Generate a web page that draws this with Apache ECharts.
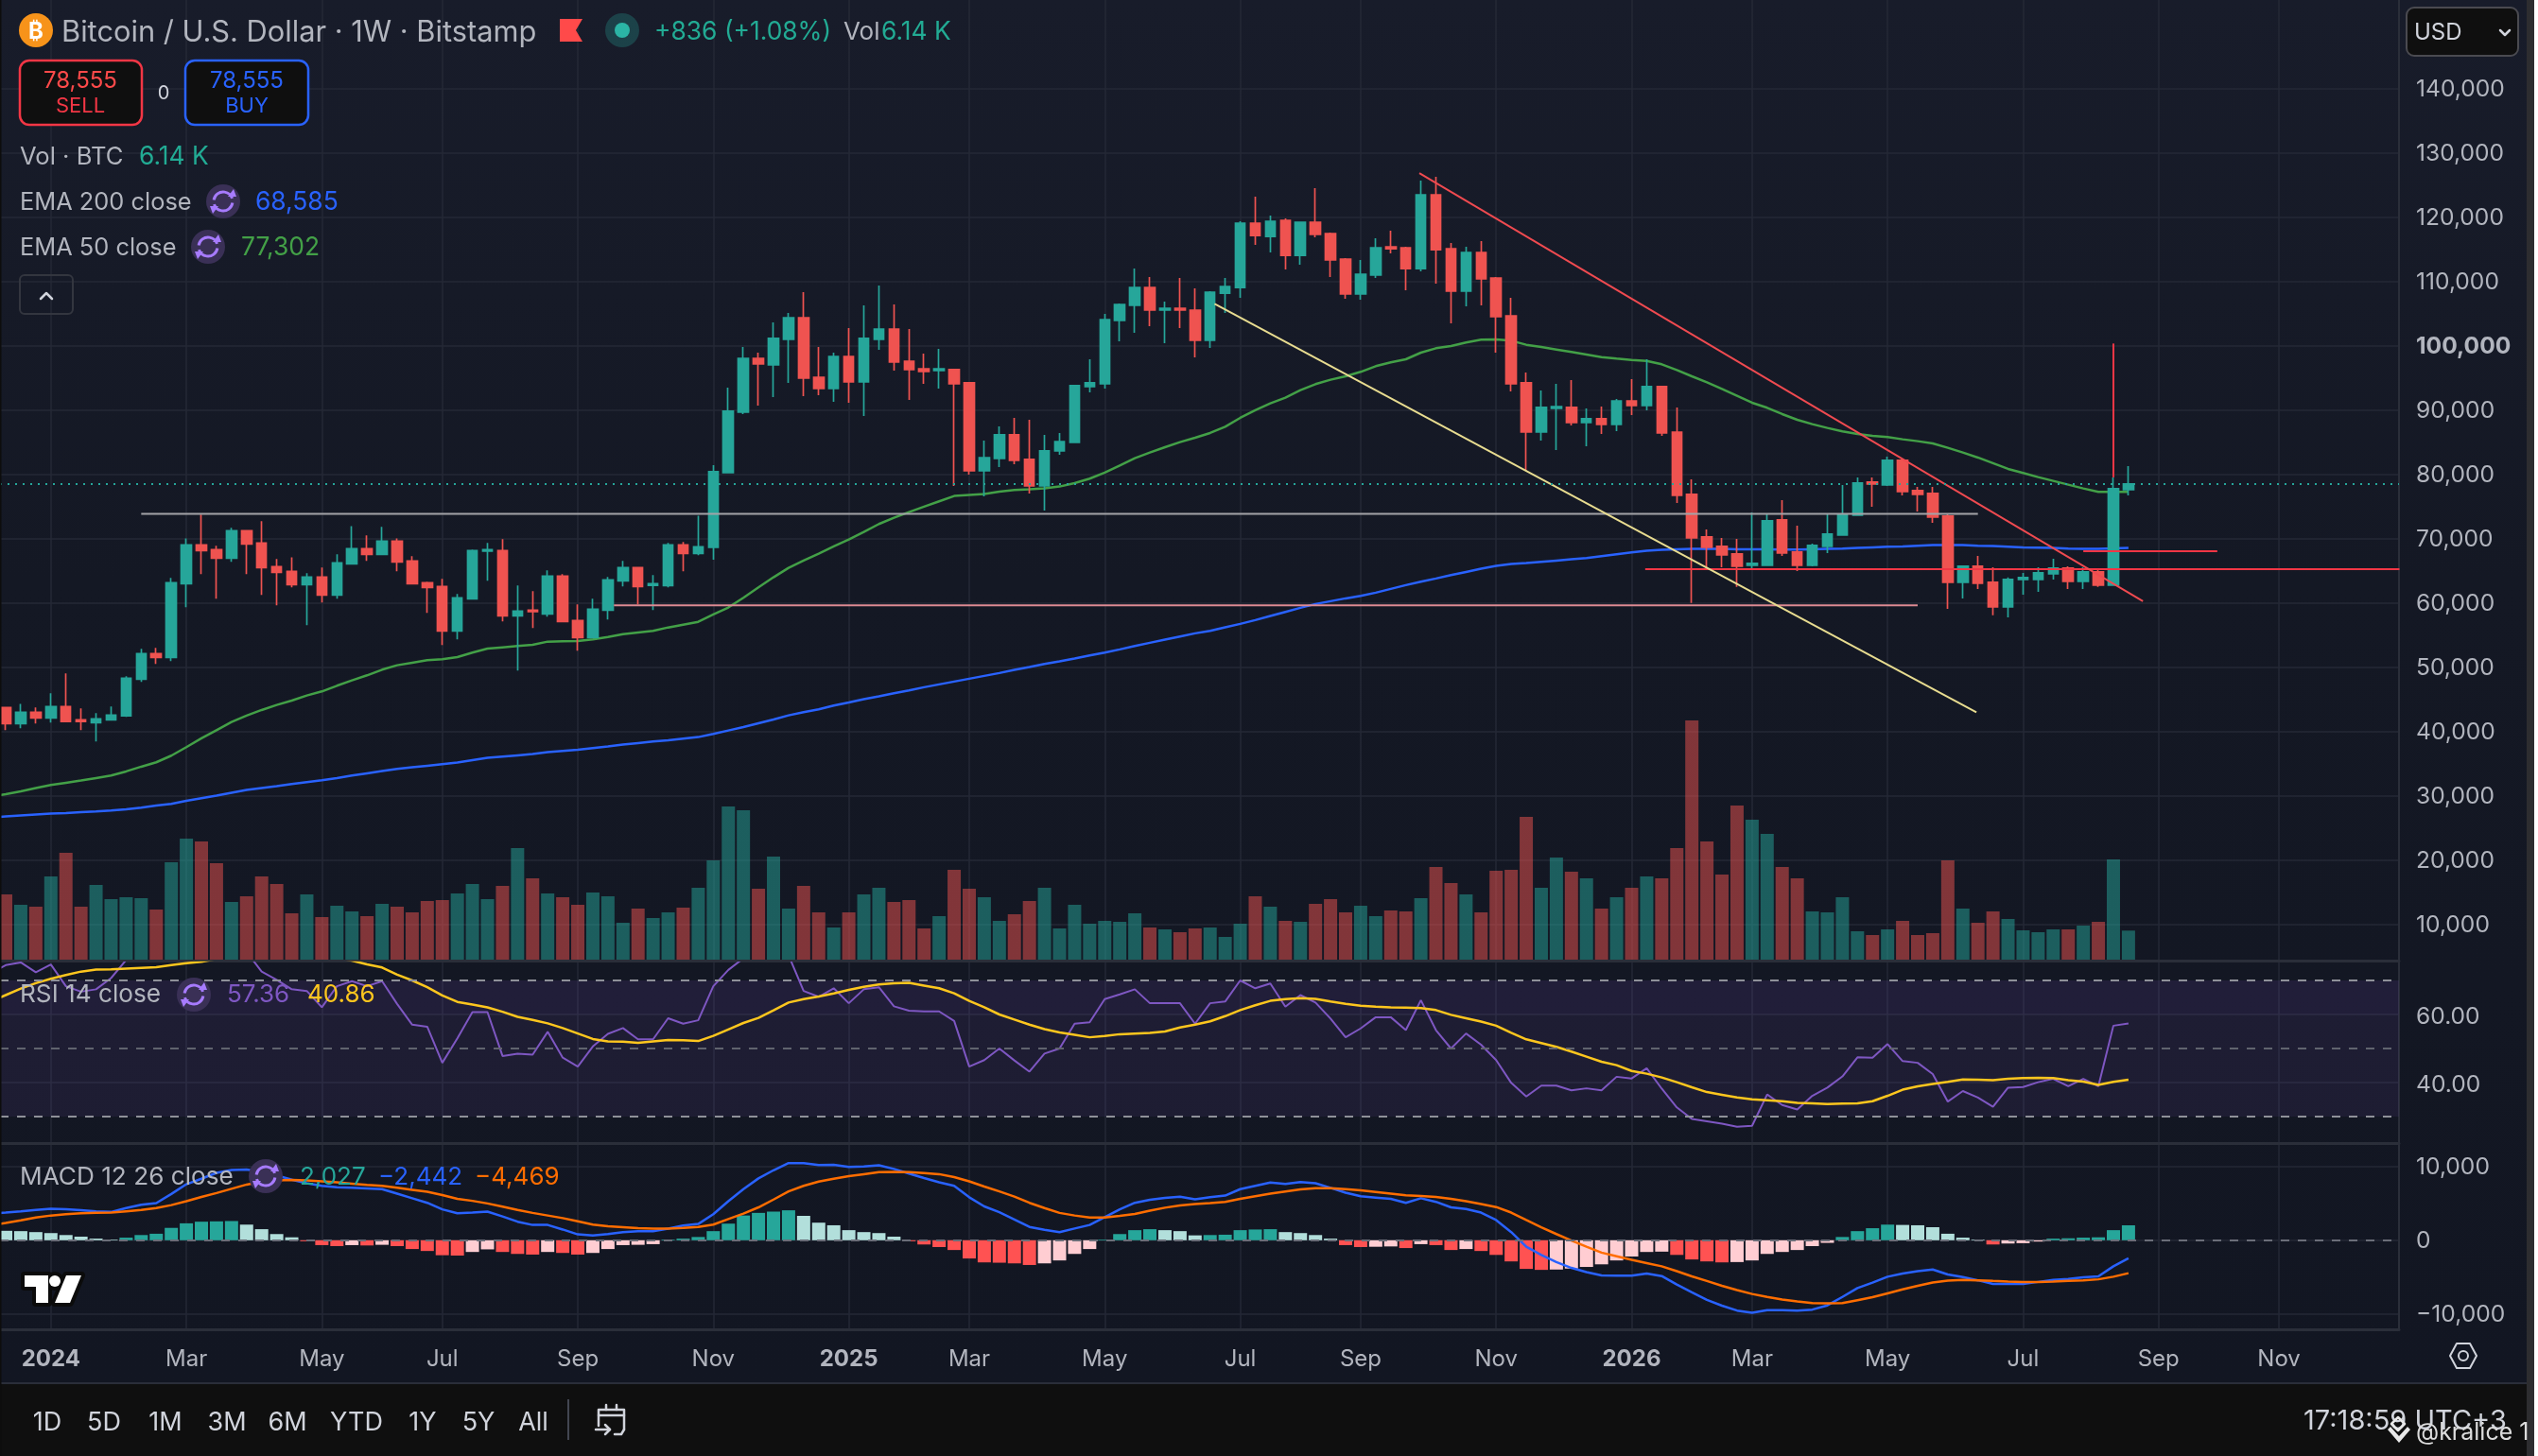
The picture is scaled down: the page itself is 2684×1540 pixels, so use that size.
<!DOCTYPE html>
<html><head><meta charset="utf-8">
<style>html,body{margin:0;padding:0;background:#fff}#c{width:2684px;height:1540px}</style>
<script src="https://cdn.jsdelivr.net/npm/echarts@6/dist/echarts.min.js"></script>
</head><body><div id="c"></div>
<script>
// [open, close, low, high] per week; index 3 = first week of 2024
const ohlc=[
[43780,41280,40250,43780],[41280,43050,40550,44320],[43050,42160,41280,43780],[42160,43930,41430,45990],[43930,41580,41580,49070],[41870,41580,40250,43630],[41430,42020,38490,42900],[41870,42610,41870,43930],[42460,48340,42310,48630],[48190,52160,47750,52900],
[52160,51570,50540,53040],[51570,63190,50980,63920],[63040,69070,59360,70090],[69070,68180,64510,73770],[68330,67010,60690,68920],[67010,71270,66420,71710],[71270,69210,64510,71270],[69360,65540,61270,72740],[65680,64800,59660,66860],[64950,62890,62450,67150],
[62890,64070,56570,64660],[64070,61270,60100,65540],[61270,66270,60690,67600],[66130,68480,66130,72000],[68480,67600,66570,70540],[67600,69650,67600,71860],[69650,66420,64950,70090],[66570,63040,63040,67300],[63190,62450,58480,63330],[62600,55690,53480,63770],
[55690,60830,54370,61420],[60690,68180,60690,68330],[68090,68330,63480,69360],[68180,58040,57160,69950],[58040,58780,49510,62740],[58920,58680,56130,61860],[58330,64210,57890,65100],[64210,57160,57160,64510],[57310,54660,52600,59800],[54660,59070,54660,60690],
[58920,63630,57450,64070],[63480,65540,62600,66570],[65540,62600,59800,65680],[62790,63040,58920,64360],[62740,69070,62450,69360],[69070,67740,64950,69510],[67740,68770,67450,73620],[68690,80450,66780,81480],[80300,89860,80300,93530],[89710,98090,89420,99850],
[98090,97210,90740,98970],[97060,101180,92060,103680],[101030,104410,94270,105150],[104410,95000,92210,108380],[95150,93390,92360,99850],[93390,98380,91330,98970],[98380,94410,91180,102790],[94410,101180,89120,106320],[101030,102650,99410,109410],[102650,97500,96180,106470],
[97650,96330,91620,102650],[96470,96030,94120,98820],[96180,96470,93390,99560],[96330,94120,78240,96470],[94270,80600,80010,94410],[80600,82650,76630,85300],[82510,86180,81180,87510],[86180,82210,81630,88830],[82360,78240,77070,88530],[78240,83680,74420,86180],
[83680,85150,83100,86480],[85010,93830,85010,93830],[93680,94270,92800,97940],[94120,104120,93390,105000],[103970,106470,100740,106620],[106320,109110,102060,112050],[109110,105590,103090,110730],[105590,105880,100440,106910],[105880,105590,102790,110580],[105590,100880,98240,108970],
[100880,108380,99710,108530],[108230,109260,105150,110580],[109110,119110,107500,119400],[119110,117200,115730,123230],[117050,119400,114550,120290],[119550,114110,111910,119850],[114110,119260,112640,119260],[119260,117350,116910,124550],[117490,113380,110730,117640],[113520,108090,107350,113670],
[108090,111170,107200,113380],[111030,115290,110580,116760],[115440,115140,114410,117930],[115290,112050,108670,115440],[112050,123520,111610,125730],[123520,114990,109700,126310],[115140,108530,103530,116020],[108530,114550,106170,115440],[114550,110440,106320,116320],[110580,104560,98970,110730],
[104700,94120,92940,107500],[94270,86620,80600,95880],[86620,90450,85300,93090],[90300,90590,83830,94120],[90450,88090,87650,94710],[88090,88680,84420,90300],[88680,87800,86330,90590],[87800,91470,86770,91770],[91470,90740,89270,94860],[90740,93680,90000,97940],
[93680,86480,86040,93680],[86620,76770,75600,90450],[76920,70160,60020,79270],[70310,68690,65310,71480],[68840,67510,65600,70160],[67660,65750,62520,70010],[65900,66190,65310,74130],[65900,72810,65900,73980],[72950,67810,67370,76040],[67950,65900,65010,72070],
[65900,68980,65750,69280],[68840,70750,67810,73830],[70600,73830,70600,78390],[73690,78690,73690,79570],[78830,78540,75010,79570],[78390,82210,78240,82800],[82210,77360,76770,82510],[77510,76920,74280,78100],[77070,73390,72510,78100],[73540,63250,59130,73830],
[63250,65750,60750,65750],[65750,63100,62220,67370],[63250,59430,58110,65600],[59430,63690,57810,63990],[63690,63990,61340,64720],[63690,64720,61780,65600],[64570,65460,63690,66930],[65460,63400,62220,65750],[63400,64870,62220,65600],[64870,62810,62520,65160],
[62810,77800,62810,79570],[77660,78555,76770,81330]];
// the first value of each indicator is the week just left of the visible window (index -1)
const ema50=[29870,30306,30747,31237,31727,32070,32413,32805,33197,33834,34569,35255,36284,37607,38979,40253,41527,42507,43389,44173,44859,
45643,46280,47162,47995,48779,49661,50347,50739,51131,51278,51621,52307,52944,53140,53336,53532,54022,54071,54120,54365,
54757,55198,55443,55688,56227,56668,57109,58252,59330,60849,62466,64034,65504,66631,67709,68836,69914,71090,72315,73295,
74177,75010,75843,76676,76823,76970,77362,77607,77705,77852,78146,78685,79371,80302,81429,82556,83438,84271,85055,85741,
86476,87456,88828,90004,91082,91964,93140,94071,94757,95296,95982,96864,97452,97942,98971,99657,100000,100539,100980,101029,
100833,100196,99853,99461,99069,98677,98285,98040,97844,97697,97158,96276,95296,94365,93336,92258,91180,90396,89416,88534,
87848,87260,86721,86329,86035,85839,85496,85202,84859,84173,83438,82654,81772,80890,80253,79616,79028,78440,77852,77313,77313,77302];
const ema200=[26680,26827,26974,27121,27268,27366,27513,27611,27758,27954,28199,28542,28787,29277,29669,30061,30502,30943,31237,31531,31874,
32168,32462,32805,33197,33540,33883,34226,34471,34716,34961,35206,35598,35941,36137,36333,36529,36823,37019,37215,37460,
37705,37999,38244,38489,38685,38930,39175,39665,40204,40743,41331,41919,42556,43046,43487,44075,44565,45071,45512,46002,
46443,46933,47374,47815,48256,48697,49138,49628,50069,50559,50951,51392,51882,52323,52813,53352,53842,54332,54822,55312,
55704,56243,56782,57370,58007,58644,59281,59869,60310,60751,61143,61633,62221,62809,63348,63838,64377,64867,65357,65798,
66092,66239,66435,66631,66827,67023,67317,67611,67905,68150,68297,68395,68444,68444,68444,68395,68395,68395,68346,68346,
68395,68444,68493,68591,68689,68787,68836,68934,69032,69032,69032,68934,68885,68787,68689,68640,68591,68493,68444,68444,68542,68585];
// volume in thousands of BTC
const volume=[13.8,11.6,11.2,17.6,22.6,11.2,15.8,12.8,13.2,13.0,10.6,20.6,25.6,25.0,20.4,12.2,13.4,17.6,16.0,9.8,
13.8,9.0,11.4,10.2,9.2,11.8,11.2,10.0,12.4,12.6,14.0,16.0,12.8,15.6,23.6,17.2,14.0,13.2,11.6,14.2,
13.4,7.8,10.8,8.8,10.0,11.0,15.2,21.0,32.4,31.6,15.0,21.8,10.8,15.6,10.0,6.8,10.0,13.8,15.2,12.2,
12.6,6.6,9.2,19.0,15.0,13.2,8.2,9.6,12.4,15.2,6.6,11.6,7.6,8.2,8.0,9.8,6.8,6.4,5.8,6.6,
6.8,4.8,7.6,13.4,11.2,8.2,8.0,11.8,12.8,10.0,11.4,9.2,10.4,10.2,13.0,19.6,16.2,13.8,10.0,18.8,
19.0,30.2,15.2,21.6,18.6,17.2,10.8,13.2,15.2,17.6,17.2,23.6,50.6,25.0,18.0,32.6,29.6,26.6,19.6,17.2,
10.2,10.0,13.2,6.0,5.2,6.4,8.2,5.2,5.6,21.0,10.8,7.8,10.2,8.6,6.2,5.8,6.4,6.4,7.2,8.0,21.2,6.14];
const rsi=[72.0,74.5,75.3,72.4,74.7,68.3,66.7,67.4,70.7,76.0,78.4,79.3,86.0,89.9,84.1,83.2,81.2,78.4,72.6,70.2,67.4,
66.9,62.1,68.3,69.8,68.3,69.8,63.1,57.0,56.4,45.8,53.0,60.7,60.7,47.8,48.5,48.2,54.9,47.3,44.7,50.6,
54.3,56.0,52.7,52.7,58.9,57.3,58.3,68.3,73.1,76.5,77.4,78.9,77.4,66.9,65.2,67.7,63.3,67.4,68.0,62.4,
61.1,60.9,60.9,58.1,44.7,46.6,50.0,46.5,43.2,48.5,50.0,57.3,57.7,64.5,65.9,67.4,63.3,63.3,63.3,57.3,
63.3,63.8,70.0,67.7,69.1,62.3,65.7,63.5,58.8,53.3,55.9,59.2,59.2,55.4,64.2,55.4,50.0,54.4,51.1,46.6,
39.9,35.9,39.1,39.1,37.7,38.3,37.7,41.7,41.2,44.2,38.2,32.7,29.3,28.6,27.9,27.0,27.3,36.5,33.4,32.1,
36.1,38.5,41.8,47.4,47.3,51.3,46.3,45.8,42.5,34.4,37.5,35.6,32.9,38.5,38.7,40.1,41.1,38.9,41.1,38.9,56.7,57.36];
const rsiMa=[63.8,65.7,67.6,69.2,70.5,71.6,72.6,73.2,73.3,73.5,73.7,73.9,74.5,75.1,75.5,76.3,76.9,77.4,77.9,78.2,78.4,
78.2,77.6,76.7,75.8,74.7,73.8,71.7,70.0,68.0,65.6,63.7,62.9,62.1,60.8,59.3,58.4,57.4,56.0,54.4,52.8,
52.1,52.0,51.7,52.1,52.5,52.4,52.2,53.7,55.6,57.5,59.0,61.2,63.5,64.5,65.3,66.2,67.2,68.1,68.8,69.2,
69.3,68.5,67.7,66.2,64.0,62.1,60.0,58.5,57.0,55.7,54.7,54.0,53.3,53.7,54.2,54.4,54.6,55.0,56.2,57.0,
58.0,59.5,61.3,62.7,64.0,64.5,64.8,64.6,63.8,63.1,62.6,62.3,62.1,62.0,61.9,61.3,59.9,58.9,57.9,56.7,
54.6,52.7,51.6,50.5,49.1,47.6,46.1,45.1,43.4,42.6,41.5,40.1,38.6,37.2,36.4,35.6,35.1,34.8,34.5,34.0,
33.9,33.7,33.8,33.9,34.5,36.1,37.9,38.9,39.6,40.2,40.9,40.8,40.7,41.1,41.3,41.4,41.3,40.7,40.3,39.3,40.2,40.86];
const macdLine=[3600,3753,3929,4106,4283,4194,4062,3929,3841,4371,4812,5033,6269,7594,8344,9139,9536,9581,9272,8786,8212,
7726,7373,7196,7108,7020,6932,6313,5695,5077,4194,3664,3753,3885,3223,2517,2075,2075,1457,795,662,
839,1104,1236,1236,1589,1987,2208,3532,5298,6932,8389,9492,10464,10464,10199,10243,9934,10022,10155,9669,
9051,8433,7859,7373,5828,4592,3797,2826,1810,1413,1104,1589,2075,3135,4194,5077,5475,5740,5916,5563,
5828,6049,6932,7373,7815,7638,7903,7726,7108,6446,5960,5784,5607,5077,5695,5210,4459,4238,3753,2737,
1104,-883,-1987,-2958,-3753,-4327,-4768,-4812,-4812,-4503,-4857,-6004,-7064,-8079,-8874,-9536,-9845,-9492,-9492,-9536,
-9404,-8830,-7682,-6490,-5740,-4945,-4503,-4194,-3974,-4636,-4989,-5430,-5916,-5916,-5916,-5651,-5386,-5254,-5033,-4901,-3532,-2442];
const macdSignal=[2000,2340,2693,3091,3355,3532,3664,3709,3753,3929,4106,4371,4768,5298,5872,6402,6976,7550,7947,8124,8168,
8124,7991,7859,7682,7506,7373,7108,6843,6578,6137,5607,5342,4989,4547,4106,3709,3355,3002,2561,2119,
1898,1766,1634,1589,1589,1678,1810,2119,2870,3620,4459,5519,6623,7373,7947,8344,8698,8962,9227,9272,
9227,9095,8962,8565,7991,7285,6623,5916,5077,4371,3709,3355,3091,3091,3311,3576,4018,4415,4724,4901,
5033,5210,5607,5960,6313,6623,6887,7064,7064,6932,6755,6534,6313,6093,6004,5872,5607,5298,4901,4503,
3753,2737,1766,839,-44,-883,-1678,-2163,-2649,-3091,-3532,-4194,-4901,-5519,-6181,-6755,-7285,-7682,-8035,-8300,
-8521,-8565,-8521,-8124,-7726,-7196,-6667,-6181,-5740,-5475,-5386,-5430,-5519,-5607,-5651,-5651,-5607,-5519,-5430,-5298,-4945,-4469];
const macdHist=[1280,1236,1104,971,706,486,221,88,353,706,883,1678,2296,2517,2561,2605,2119,1501,839,397,
-132,-662,-795,-662,-706,-618,-795,-1192,-1457,-2031,-2075,-1589,-1236,-1589,-1854,-1943,-1589,-1722,-1943,-1722,
-1192,-662,-618,-530,88,221,442,1236,2252,3355,3709,3885,4062,3311,2384,2031,1369,1104,971,486,
-132,-574,-927,-1325,-2472,-3002,-3046,-3135,-3355,-3135,-2737,-1854,-1192,88,839,1369,1501,1369,1236,662,
706,751,1369,1457,1501,1104,971,706,221,-662,-927,-883,-839,-1060,-530,-662,-1325,-1192,-1457,-1987,
-2870,-3885,-4018,-3974,-3841,-3620,-3267,-2737,-2208,-1589,-1545,-1987,-2605,-2870,-3002,-2958,-2737,-1854,-1589,-1325,
-795,-353,442,1236,1634,2119,2075,2031,1766,883,353,88,-574,-442,-397,-177,221,265,353,397,1369,2027];
const monthIndex=[3,12,21,29,38,47,56,64,73,82,90,99,108,116,125,134,143,151];
const monthNames=['2024','Mar','May','Jul','Sep','Nov','2025','Mar','May','Jul','Sep','Nov','2026','Mar','May','Jul','Sep','Nov'];
const priceTicks=[10000,20000,30000,40000,50000,60000,70000,80000,90000,100000,110000,120000,130000,140000];
const rsiTicks=[40,60];
const rsiBands=[70,50,30];
const macdTicks=[-10000,0,10000];
const lastPrice=78555;
const lineGrey=[[9,73900],[131,73900]];
const linePink=[[40.4,59660],[127,59660]];
const lineRed=[[108.9,65300],[159,65300]];
const lineRedShort=[[138,68100],[146.9,68100]];
const lineYellow=[[80.3,106570],[130.9,43040]];
const lineTrend=[[93.9,126900],[141.96,60310]];
const spike=[[140,79570],[140,100390]];

const FONT='Inter, Roboto, sans-serif';
const UP='#26a69a',DN='#ef5350';
const pts=a=>a.map((v,i)=>[i,v]);
const ptsLead=a=>a.map((v,i)=>[i-1,v]);
const XMIN=-0.379,XMAX=158.97,RIGHT=147;
const gridC='#252936',sepC='#2a2e39',txt='#b2b5be';

const grids=[
 {left:0,right:RIGHT,top:0,height:1016},
 {left:0,right:RIGHT,top:701,height:314},
 {left:0,right:RIGHT,top:1018,height:191},
 {left:0,right:RIGHT,top:1211,height:195}];
function xAx(i,showLabel){return{type:'value',gridIndex:i,min:XMIN,max:XMAX,position:'bottom',
  axisLine:{show:i!==1,onZero:false,lineStyle:{color:sepC,width:3}},
  axisTick:{show:false,customValues:monthIndex},
  splitLine:{show:i!==1,lineStyle:{color:gridC,width:1.5}},
  axisLabel:{show:showLabel,customValues:monthIndex,margin:20,color:txt,fontFamily:FONT,fontSize:24,
    hideOverlap:false,showMinLabel:true,showMaxLabel:true,
    formatter:v=>{const n=monthNames[monthIndex.indexOf(v)];return /^\d/.test(n)?'{b|'+n+'}':n},
    rich:{b:{fontFamily:FONT,fontSize:24,fontWeight:700,color:txt}}}}}
function yAx(i,min,max,ticks,fmt,pad){return{type:'value',gridIndex:i,position:'right',min,max,scale:true,
  axisLine:{show:true,onZero:false,lineStyle:{color:sepC,width:2}},
  axisTick:{show:false,customValues:ticks},
  splitLine:{show:true,lineStyle:{color:gridC,width:1.5}},
  axisLabel:{customValues:ticks,margin:18,color:txt,fontFamily:FONT,fontSize:24.6,formatter:fmt,hideOverlap:false,padding:[pad,0,0,0],
    rich:{b:{fontFamily:FONT,fontSize:24.6,fontWeight:700,color:txt}}}}}
const commas=v=>Math.abs(v).toLocaleString('en-US');
const lineS=(name,x,y,data,color,w,z,extra)=>Object.assign({name,type:'line',xAxisIndex:x,yAxisIndex:y,data,showSymbol:false,symbol:'none',silent:true,
  lineStyle:{color,width:w},z,animation:false},extra||{});

const series=[
 {name:'Volume',type:'bar',xAxisIndex:1,yAxisIndex:1,data:pts(volume),barWidth:14,z:1,silent:true,
  itemStyle:{color:p=>ohlc[p.dataIndex][1]>=ohlc[p.dataIndex][0]?'rgba(38,166,154,0.5)':'rgba(239,83,80,0.5)'}},
 lineS('EMA 200',0,0,ptsLead(ema200),'#2962ff',2.5,2),
 lineS('EMA 50',0,0,ptsLead(ema50),'#43a047',2.5,2),
 {name:'BTCUSD',type:'candlestick',xAxisIndex:0,yAxisIndex:0,z:3,barWidth:11,silent:true,
  data:ohlc.map((c,i)=>[i,c[0],c[1],c[2],c[3]]),
  itemStyle:{color:UP,color0:DN,borderColor:UP,borderColor0:DN,borderWidth:1.7},
  markLine:{silent:true,symbol:'none',label:{show:false},animation:false,
    lineStyle:{color:UP,type:[2,6],width:2},data:[{yAxis:lastPrice}]}},
 lineS('Spike',0,0,spike,'#f23645',2,3),
 lineS('Level grey',0,0,lineGrey,'#a3a3a8',2,4),
 lineS('Level pink',0,0,linePink,'#dc8a92',2,4),
 lineS('Level red',0,0,lineRed,'#f23645',2,4),
 lineS('Level red short',0,0,lineRedShort,'#f23645',2,4),
 lineS('Trend yellow',0,0,lineYellow,'#e8dc90',2,4),
 lineS('Trend red',0,0,lineTrend,'#ef4a50',2,4),
 lineS('RSI',2,2,ptsLead(rsi),'#7e57c2',2,3,{
   markArea:{silent:true,animation:false,data:[
     [{yAxis:70,itemStyle:{color:'rgba(126,87,194,0.1)'}},{yAxis:30}],
     [{yAxis:70,itemStyle:{color:'rgba(126,87,194,0.04)'}},{yAxis:60}]]},
   markLine:{silent:true,symbol:'none',label:{show:false},animation:false,
     data:rsiBands.map(v=>({yAxis:v,lineStyle:{color:v===50?'#60636e':'#8f9199',type:[9,9],width:2}}))}}),
 lineS('RSI MA',2,2,ptsLead(rsiMa),'#fdc61e',2.5,4),
 {name:'Histogram',type:'bar',xAxisIndex:3,yAxisIndex:3,data:pts(macdHist),barWidth:14,z:2,silent:true,
  itemStyle:{color:p=>{const v=macdHist[p.dataIndex],q=p.dataIndex?macdHist[p.dataIndex-1]:v+1;
    return v>=0?(v>=q?'#26a69a':'#b2dfdb'):(v<=q?'#ff5252':'#ffcdd2')}},
  markLine:{silent:true,symbol:'none',label:{show:false},animation:false,
    lineStyle:{color:'#6a6d78',type:[9,9],width:2},data:[{yAxis:0}]}},
 lineS('MACD',3,3,ptsLead(macdLine),'#2962ff',2.5,3),
 lineS('Signal',3,3,ptsLead(macdSignal),'#ff6d00',2.5,4)
];

// chrome
const Z=100;const G=[];
function T(text,x,y,size,fill,o){o=o||{};G.push({type:'text',z:o.z||Z,silent:true,style:{text,x,y:y+1.5,fill,
  font:(o.w||400)+' '+size+'px '+FONT,align:o.a||'left',verticalAlign:'middle',textAlign:o.a||'left',textVerticalAlign:'middle'}})}
function R(x,y,w,h,fill,o){o=o||{};G.push({type:'rect',z:o.z||Z-1,silent:true,shape:{x,y,width:w,height:h,r:o.r||0},
  style:{fill,stroke:o.stroke||null,lineWidth:o.lw||0}})}
function L(pts,stroke,lw,o){G.push({type:'polyline',z:(o&&o.z)||Z,silent:true,shape:{points:pts},style:{stroke,lineWidth:lw,fill:null,lineCap:'round',lineJoin:'round'}})}
function P(pts,fill,o){o=o||{};G.push({type:'polygon',z:o.z||Z,silent:true,shape:{points:pts},style:{fill,stroke:o.stroke||null,lineWidth:o.lw||0,lineJoin:'round'}})}
function C(cx,cy,r,fill,o){o=o||{};G.push({type:'circle',z:o.z||Z,silent:true,shape:{cx,cy,r},style:{fill,stroke:o.stroke||null,lineWidth:o.lw||0}})}
function refresh(cx,cy){
  C(cx,cy,18,'#3a3056');
  const col='#a77bff';
  G.push({type:'arc',z:Z+1,silent:true,shape:{cx,cy,r:10,startAngle:Math.PI*1.05,endAngle:Math.PI*1.9},style:{stroke:col,lineWidth:3,fill:null}});
  G.push({type:'arc',z:Z+1,silent:true,shape:{cx,cy,r:10,startAngle:Math.PI*0.05,endAngle:Math.PI*0.9},style:{stroke:col,lineWidth:3,fill:null}});
  P([[cx+5,cy-5],[cx+14,cy-5],[cx+11,cy-13]],col,{z:Z+1});
  P([[cx-5,cy+5],[cx-14,cy+5],[cx-11,cy+13]],col,{z:Z+1});
}
// header
C(38,32,18,'#f7931a');T('₿',38,32,24,'#fff',{a:'center',w:700,z:Z+1});
T('Bitcoin / U.S. Dollar · 1W · Bitstamp',65,33,30.8,txt);
P([[592,20],[616,20],[609,32],[616,44],[592,44]],'#ff4a4a');
C(658,32,18,'rgba(38,166,154,0.28)');C(658,32,8,'#2bb5a5',{z:Z+1});
T('+836 (+1.08%)',692,33,26.4,'#22ab94');
T('Vol',892,33,26,txt);T('6.14 K',932,33,26.4,'#22ab94');
R(21,64,129,68,'#0f0f0f',{r:10,stroke:'#f23645',lw:2.5});
T('78,555',85,84,24,'#ff4a4a',{a:'center'});T('SELL',85,111,22,'#f23645',{a:'center'});
T('0',173,97,20,'#d1d4dc',{a:'center'});
R(196,64,130,68,'#0f0f0f',{r:10,stroke:'#2962ff',lw:2.5});
T('78,555',261,84,24,'#2962ff',{a:'center'});T('BUY',261,111,22,'#2962ff',{a:'center'});
T('Vol · BTC',21,165,25.6,txt);T('6.14 K',147,165,26.4,'#22ab94');
T('EMA 200 close',21,213,25.4,txt);refresh(236,213);T('68,585',270,213,26.4,'#2962ff');
T('EMA 50 close',21,261,25.4,txt);refresh(220,261);T('77,302',255,261,26.4,'#43a047');
R(21,291,56,41,'rgba(0,0,0,0)',{r:5,stroke:'#33363f',lw:2});
L([[43,316],[49,310],[55,316]],'#d1d4dc',2.5);
// RSI / MACD legends
T('RSI 14 close',21,1051,26.2,txt);refresh(205,1052);T('57.36',240,1051,26,'#7e57c2');T('40.86',325,1051,26,'#fdc61e');
T('MACD 12 26 close',21,1244,26.2,txt);refresh(281,1244);T('2,027',317,1244,26,'#26a69a');T('−2,442',400,1244,26,'#2962ff');T('−4,469',502,1244,26,'#ff6d00');
// logo: dark outline below, white glyph above
const logoT=[[26,1349],[51,1349],[51,1378],[38,1378],[38,1361],[26,1361]];
const logoS=[[70,1349],[86,1349],[74,1378],[58,1378]];
P(logoT,'#0b0b0b',{stroke:'#0b0b0b',lw:8});C(58,1355,6,'#0b0b0b',{stroke:'#0b0b0b',lw:8});P(logoS,'#0b0b0b',{stroke:'#0b0b0b',lw:8});
P(logoT,'#fff',{z:Z+1});C(58,1355,6,'#fff',{z:Z+1});P(logoS,'#fff',{z:Z+1});
// USD box
R(2545,8,118,51,'#0f0f0f',{r:8,stroke:'#4a4a50',lw:2,z:Z});
T('USD',2553,33,24,'#d1d4dc',{z:Z+1});
L([[2644,32],[2649,37],[2654,32]],'#d1d4dc',2.5,{z:Z+1});
// settings hexagon
P([[2591,1434],[2598,1421],[2612,1421],[2619,1434],[2612,1447],[2598,1447]],'rgba(0,0,0,0)',{stroke:'#d1d4dc',lw:2});
C(2605,1434,5,'rgba(0,0,0,0)',{stroke:'#d1d4dc',lw:2});
// bottom toolbar
R(0,1463,2672,77,'#0f0f0f');
R(0,1462,2672,2,sepC,{z:Z});
[['1D',50],['5D',110],['1M',175],['3M',240],['6M',304],['YTD',377],['1Y',447],['5Y',506],['All',564]].forEach(a=>T(a[0],a[1],1503,27,'#d1d4dc',{a:'center'}));
R(600,1480,2,43,'#434651',{z:Z});
L([[660,1512],[660,1491],[633,1491],[633,1508]],'#d1d4dc',2.5);
L([[633,1497],[660,1497]],'#d1d4dc',2.5);
L([[641,1486],[641,1491]],'#d1d4dc',2.5);L([[652,1486],[652,1491]],'#d1d4dc',2.5);
L([[630,1512],[645,1512]],'#d1d4dc',2.5);L([[640,1507],[645,1512],[640,1517]],'#d1d4dc',2.5);
L([[650,1517],[657,1517],[660,1512]],'#d1d4dc',2.5);
T('17:18:59 UTC+3',2436,1502,29,'#d1d4dc');
P([[2536,1499],[2543,1506],[2536,1513],[2529,1506]],'rgba(0,0,0,0)',{stroke:'#e8e8e8',lw:2.5,z:Z+1});
P([[2525,1512],[2528,1509],[2537,1519],[2546,1509],[2549,1512],[2537,1526]],'#e8e8e8',{z:Z+1});
T('@kralice 1',2555,1514,25,'#dcdcdc',{z:Z+1});
// right and left edges
R(2672,0,8,1540,'#2d2d30',{z:Z});
R(2680,0,4,1540,'#ffffff',{z:Z});
R(0,0,1.5,1540,'#0d0d0d',{z:Z});

const chart=echarts.init(document.getElementById('c'),null,{renderer:'canvas',width:2684,height:1540});
chart.setOption({
 animation:false,
 backgroundColor:{type:'linear',x:0,y:0,x2:0,y2:1,colorStops:[{offset:0,color:'#181c2a'},{offset:0.4,color:'#141824'},{offset:0.95,color:'#121622'},{offset:1,color:'#121622'}]},
 grid:grids,
 xAxis:[xAx(0,false),xAx(1,false),xAx(2,false),xAx(3,true)],
 yAxis:[
  yAx(0,4412,153823,priceTicks,v=>v===100000?'{b|100,000}':commas(v),1),
  {type:'value',gridIndex:1,min:0,max:62.8,show:false,splitLine:{show:false}},
  yAx(2,22.22,75.28,rsiTicks,v=>v.toFixed(2),5),
  yAx(3,-12077,12923,macdTicks,v=>(v<0?'−':'')+commas(v),1)],
 series,
 graphic:{elements:G}
});
</script></body></html>
